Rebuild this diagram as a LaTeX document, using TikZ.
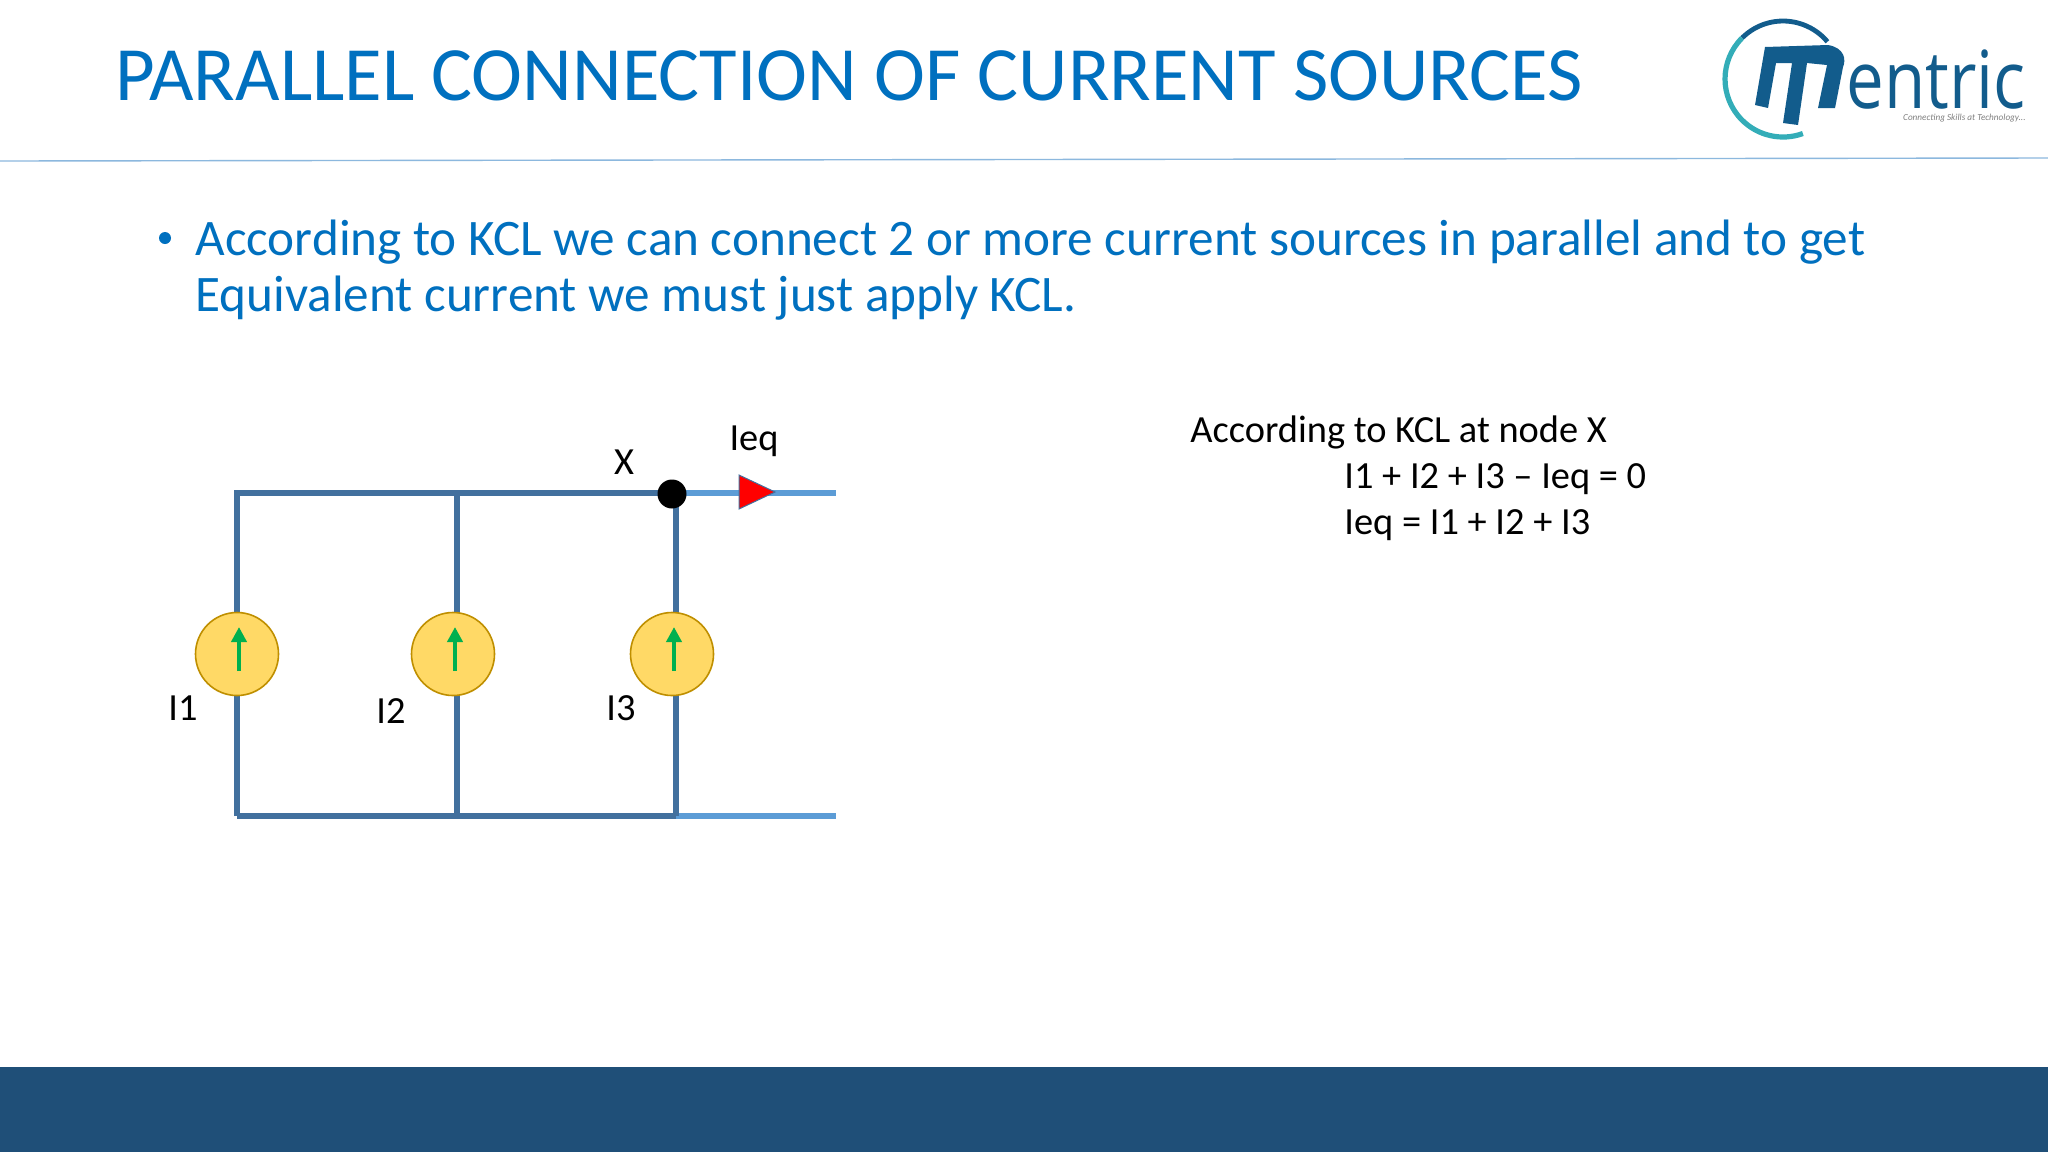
\documentclass[tikz,border=0pt]{standalone}
\usepackage{fontspec}
\setmainfont{Carlito}
\newfontfamily\logofont{Open Sans}
\usetikzlibrary{arrows.meta}
\definecolor{titleblue}{rgb}{0.0,0.44,0.75}
\definecolor{footblue}{rgb}{0.12,0.31,0.47}
\definecolor{ruleblue}{rgb}{0.55,0.72,0.87}
\definecolor{wiredark}{rgb}{0.26,0.44,0.62}
\definecolor{wirelight}{rgb}{0.36,0.61,0.84}
\definecolor{srcfill}{rgb}{1.,0.85,0.4}
\definecolor{srcedge}{rgb}{0.75,0.56,0.}
\definecolor{arrowgreen}{rgb}{0.,0.69,0.31}
\definecolor{logodark}{rgb}{0.07,0.36,0.55}
\definecolor{logoteal}{rgb}{0.2,0.68,0.72}
\tikzset{
  wire/.style={draw=wiredark,line width=2.8pt},
  wireout/.style={draw=wirelight,line width=2.8pt},
  srcnode/.style={circle,draw=srcedge,line width=0.8pt,fill=srcfill,minimum size=41.5pt,inner sep=0pt},
  srcarrow/.style={draw=arrowgreen,line width=1.9pt,-{Triangle[length=7.5pt,width=7.5pt]}},
  lbl/.style={text=black,font=\fontsize{19.2}{23}\selectfont,inner sep=0pt},
}
\begin{document}
\begin{tikzpicture}[line cap=butt,line join=miter,x=0.5pt,y=-0.5pt]
\useasboundingbox (0,0) rectangle (2048,1152);
\fill [white] (0,0) rectangle (2048,1152);
\fill [footblue] (0,1067) rectangle (2048,1152);
\draw [ruleblue,line width=0.7pt] (0,161) -- (2048,158);
% heading and bullet
\node (title) [anchor=west,inner sep=0pt,text=titleblue,font=\fontsize{38.4}{46}\selectfont] at (115,76) {PARALLEL CONNECTION OF CURRENT SOURCES};
\fill [titleblue] (165,238) circle (3pt);
\node (line1) [anchor=west,inner sep=0pt,text=titleblue,font=\fontsize{25.6}{30}\selectfont] at (195,242) {According to KCL we can connect 2 or more current sources in parallel and to get};
\node (line2) [anchor=west,inner sep=0pt,text=titleblue,font=\fontsize{25.6}{30}\selectfont] at (195,298) {Equivalent current we must just apply KCL.};
% logo
\draw [logodark,line width=2.4pt] (1742,38) arc (-135:-40:58);
\draw [logoteal,line width=2.6pt] (1742,38) arc (-135:-290:58);
\fill [logodark] (1765,47) -- (1828,45) .. controls (1845,48) and (1846,60) .. (1843,67) -- (1835,108) -- (1818,108) -- (1827,65) -- (1807,63) -- (1798,125) -- (1783,123) -- (1792,63) -- (1776,63) -- (1768,108) -- (1755,105) -- cycle;
\node (logotext) [anchor=base west,inner sep=0pt,text=logodark,font=\logofont\fontsize{40}{40}\selectfont,transform shape,xscale=0.84] at (1846,108) {entric};
\node (tagline) [anchor=east,inner sep=0pt,text=gray,font=\itshape\fontsize{4.6}{5}\selectfont] at (2026,118) {Connecting Skills at Technology...};
% circuit
\coordinate (top1) at (237,493);
\coordinate (top2) at (457,493);
\coordinate (top3) at (676,493);
\coordinate (topend) at (836,493);
\coordinate (bot1) at (237,816);
\coordinate (bot2) at (457,816);
\coordinate (bot3) at (676,816);
\coordinate (botend) at (836,816);
\draw [wireout] (top3) -- (topend);
\draw [wireout] (bot3) -- (botend);
\draw [wire] (bot1) -- (top1) -- (top3);
\draw [wire] (top2) -- (bot2);
\draw [wire] (top3) -- (bot3);
\draw [wire,line cap=square] (bot1) -- (bot3);
\node (src1) [srcnode] at (237,654) {};
\node (src2) [srcnode] at (453,654) {};
\node (src3) [srcnode] at (672,654) {};
\foreach \s/\dx in {src1/2,src2/2,src3/2}
  \draw [srcarrow] ([shift={(\dx,17)}]\s.center) -- ([shift={(\dx,-27)}]\s.center);
\node (nodex) [circle,fill=black,minimum size=14.5pt,inner sep=0pt] at (672,494) {};
\fill [red,draw=wiredark,line width=0.5pt] (739,475) -- (775,492) -- (739,509) -- cycle;
\node (labi1) [lbl] at (183,708) {I1};
\node (labi2) [lbl] at (391,711) {I2};
\node (labi3) [lbl] at (621,708) {I3};
\node (labx) [lbl] at (624,462) {X};
\node (labieq) [lbl] at (754,441) {Ieq};
% right hand text
\node (eq1) [lbl,anchor=west] at (1190,432) {According to KCL at node X};
\node (eq2) [lbl,anchor=west] at (1344,479) {I1 + I2 + I3 -- Ieq = 0};
\node (eq3) [lbl,anchor=west] at (1344,525) {Ieq = I1 + I2 + I3};
\end{tikzpicture}
\end{document}
